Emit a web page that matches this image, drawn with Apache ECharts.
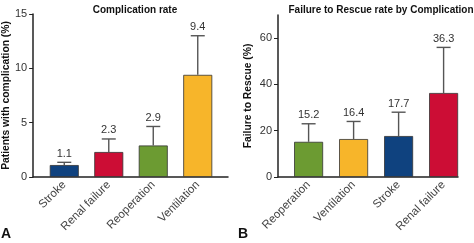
<!DOCTYPE html>
<html>
<head>
<meta charset="utf-8">
<script src="https://cdn.jsdelivr.net/npm/echarts@6/dist/echarts.min.js"></script>
<style>
  html, body { margin: 0; padding: 0; background: #fff; }
  #main { width: 474px; height: 243px; }
</style>
</head>
<body>
<div id="main"></div>
<script>
// panel A
var leftCats = ['Stroke', 'Renal failure', 'Reoperation', 'Ventilation'];
var leftVals = [1.1, 2.3, 2.9, 9.4];
var leftErr = [1.35, 3.5, 4.65, 13.0];
var leftTicks = [0, 5, 10, 15];
// panel B
var rightCats = ['Reoperation', 'Ventilation', 'Stroke', 'Renal failure'];
var rightVals = [15.2, 16.4, 17.7, 36.3];
var rightErr = [23, 24, 28, 56];
var rightTicks = [0, 20, 40, 60];

// colour per complication
var catColor = {
  'Stroke': '#0f427f',
  'Renal failure': '#cc0d35',
  'Reoperation': '#6c9b32',
  'Ventilation': '#f7b52a'
};

var FONT = 'Liberation Sans, Arial, sans-serif';

function barData(cats, vals) {
  return vals.map(function (v, i) {
    return { value: [i, v], itemStyle: { color: catColor[cats[i]] } };
  });
}
function errData(vals, errs) {
  return vals.map(function (v, i) { return [i, v, errs[i]]; });
}

function renderErr(params, api) {
  var x = api.value(0);
  var top = api.coord([x, api.value(1)]);
  var hi = api.coord([x, api.value(2)]);
  var half = 7;
  return {
    type: 'group',
    children: [
      { type: 'line', shape: { x1: top[0], y1: top[1], x2: hi[0], y2: hi[1] },
        style: { stroke: '#555', lineWidth: 1.4 } },
      { type: 'line', shape: { x1: hi[0] - half, y1: hi[1], x2: hi[0] + half, y2: hi[1] },
        style: { stroke: '#555', lineWidth: 1.4 } },
      { type: 'text', x: hi[0], y: hi[1] - 3,
        style: { text: api.value(1).toFixed(1), fill: '#333', font: '11px ' + FONT,
                 align: 'center', verticalAlign: 'bottom' } }
    ]
  };
}

function xAxisFor(idx, cats, min, max) {
  return {
    type: 'value', gridIndex: idx, min: min, max: max,
    splitLine: { show: false },
    axisTick: { show: false },
    axisLine: { show: true, onZero: false, lineStyle: { color: '#222', width: 1.5 } },
    axisLabel: {
      customValues: [0, 1, 2, 3], rotate: 45, margin: 6,
      color: '#444', fontSize: 11.5, fontFamily: FONT,
      formatter: function (v) { return cats[Math.round(v)]; }
    }
  };
}

function yAxisFor(idx, name, max, ticks, gap) {
  return {
    type: 'value', gridIndex: idx, min: 0, max: max,
    name: name, nameLocation: 'middle', nameGap: gap,
    nameTextStyle: { fontWeight: 'bold', fontSize: 10.3, color: '#111', fontFamily: FONT },
    splitLine: { show: false },
    axisLine: { show: true, onZero: false, lineStyle: { color: '#222', width: 1.5 } },
    axisTick: { show: true, length: 4, customValues: ticks, lineStyle: { color: '#222' } },
    axisLabel: { customValues: ticks, margin: 6, color: '#333', fontSize: 11, fontFamily: FONT }
  };
}

var chart = echarts.init(document.getElementById('main'), null, { renderer: 'canvas' });
chart.setOption({
  animation: false,
  title: [
    { text: 'Complication rate', left: 130, top: 0, textAlign: 'center',
      textStyle: { fontSize: 10, fontWeight: 'bold', color: '#111', fontFamily: FONT } },
    { text: 'Failure to Rescue rate by Complication', left: 376, top: 0, textAlign: 'center',
      textStyle: { fontSize: 10, fontWeight: 'bold', color: '#111', fontFamily: FONT } }
  ],
  graphic: [
    { type: 'text', left: 1, top: 227, style: { text: 'A', font: 'bold 14px ' + FONT, fill: '#111' } },
    { type: 'text', left: 238, top: 227, style: { text: 'B', font: 'bold 14px ' + FONT, fill: '#111' } }
  ],
  grid: [
    { left: 31, top: 14, width: 197, bottom: 66 },
    { left: 278, top: 15, width: 180, bottom: 66 }
  ],
  xAxis: [
    xAxisFor(0, leftCats, -0.7, 3.68),
    xAxisFor(1, rightCats, -0.68, 3.32)
  ],
  yAxis: [
    yAxisFor(0, 'Patients with complication (%)', 15, leftTicks, 21),
    yAxisFor(1, 'Failure to Rescue (%)', 70, rightTicks, 25)
  ],
  series: [
    { type: 'bar', xAxisIndex: 0, yAxisIndex: 0, barWidth: 29,
      itemStyle: { borderColor: '#333', borderWidth: 0.8 },
      data: barData(leftCats, leftVals) },
    { type: 'custom', xAxisIndex: 0, yAxisIndex: 0, renderItem: renderErr,
      data: errData(leftVals, leftErr), z: 3 },
    { type: 'bar', xAxisIndex: 1, yAxisIndex: 1, barWidth: 29,
      itemStyle: { borderColor: '#333', borderWidth: 0.8 },
      data: barData(rightCats, rightVals) },
    { type: 'custom', xAxisIndex: 1, yAxisIndex: 1, renderItem: renderErr,
      data: errData(rightVals, rightErr), z: 3 }
  ]
});
</script>
</body>
</html>
